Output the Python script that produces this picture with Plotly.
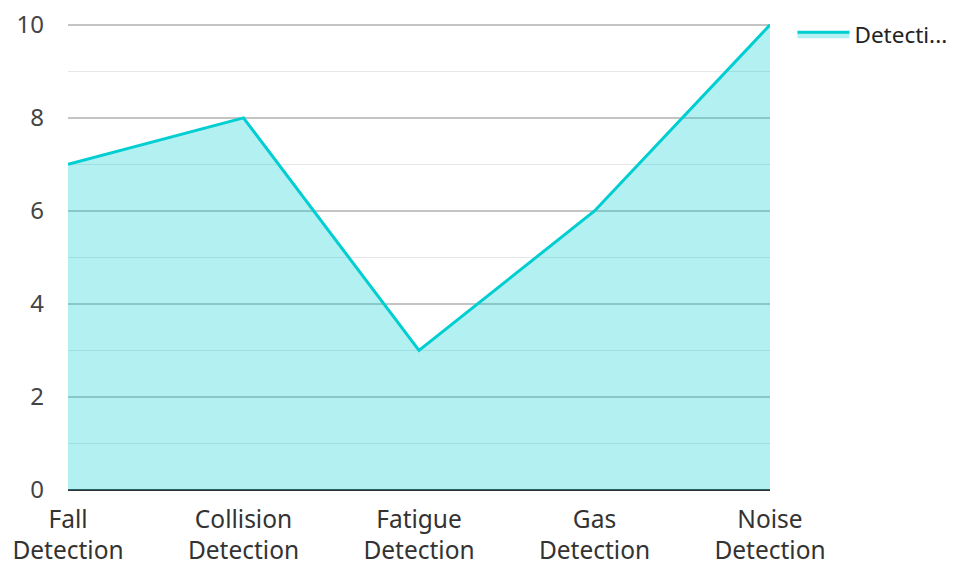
import plotly.graph_objects as go

categories = ["Fall<br>Detection", "Collision<br>Detection", "Fatigue<br>Detection", "Gas<br>Detection", "Noise<br>Detection"]
values = [7, 8, 3, 6, 10]
series_name = "Detecti..."

fig = go.Figure()
fig.add_trace(go.Scatter(
    x=categories, y=values, name=series_name, mode="lines",
    line=dict(color="#00CED1", width=3),
    fill="tozeroy", fillcolor="rgba(0,206,209,0.3)",
))
fig.update_layout(
    width=975, height=562,
    margin=dict(l=60, r=213, t=15, b=80, autoexpand=False),
    plot_bgcolor="white", paper_bgcolor="white",
    font=dict(family="Noto Sans", size=24, color="#333"),
    showlegend=True,
    legend=dict(x=1.032, y=1.021, xanchor="left", yanchor="top", font=dict(size=22.5, color="#222"),
                itemwidth=52, tracegroupgap=0),
)
fig.update_xaxes(type="category", range=[0, 4], showgrid=False, ticks="", automargin=False,
                 tickfont=dict(size=24.5, color="#333"), ticklabelstandoff=12,
                 showline=False, zeroline=False)
fig.update_yaxes(range=[0, 10.04], dtick=2, showgrid=True, gridcolor="#c4c4c4", gridwidth=1.5, automargin=False,
                 minor=dict(dtick=1, showgrid=True, gridcolor="#e6e6e6", gridwidth=1),
                 zeroline=True, zerolinecolor="#333", zerolinewidth=2, ticklabeloverflow="allow",
                 tickfont=dict(size=24, color="#444"), ticks="", ticklabelstandoff=23)
fig.write_html("out.html")
